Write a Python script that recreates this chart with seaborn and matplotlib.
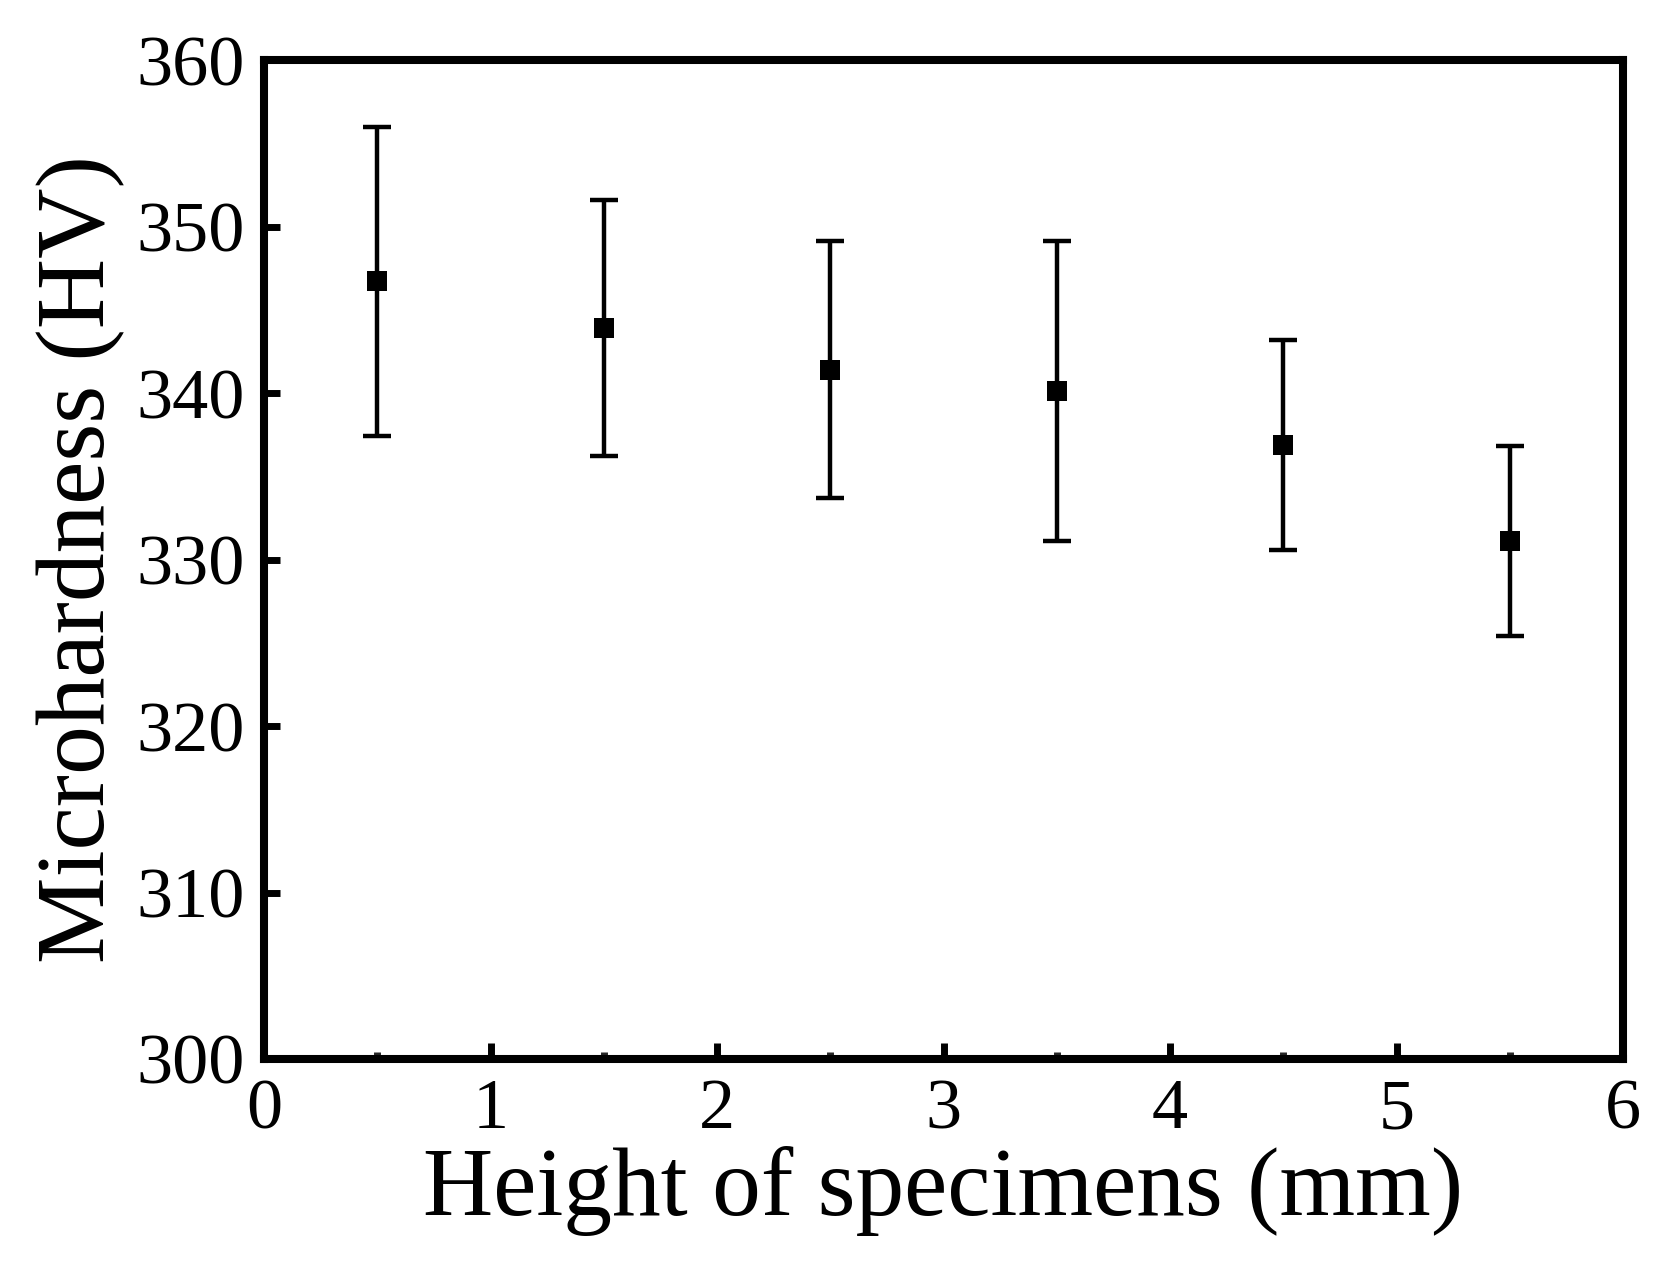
import matplotlib
matplotlib.use("Agg")
import matplotlib.pyplot as plt
import seaborn as sns
import pandas as pd
from matplotlib.ticker import MultipleLocator

height_mm = [0.5, 1.5, 2.5, 3.5, 4.5, 5.5]
hardness = [346.7, 343.9, 341.4, 340.1, 336.9, 331.1]
error = [9.3, 7.7, 7.7, 9.0, 6.3, 5.7]

df = pd.DataFrame({"height": height_mm, "hv": hardness, "err": error})

sns.set_style("white")
plt.rcParams["font.family"] = ["Liberation Serif", "DejaVu Serif"]
plt.rcParams["text.color"] = "black"
plt.rcParams["axes.labelcolor"] = "black"

W, H = 1676, 1279
fig = plt.figure(figsize=(W / 100, H / 100), dpi=100)
ax = fig.add_axes([264 / W, 1 - 1059 / H, (1623 - 264) / W, (1059 - 60) / H])

ax.errorbar(df["height"], df["hv"], yerr=df["err"], fmt="none", ecolor="black",
            elinewidth=3.2, capsize=10, capthick=3.2, zorder=2)
sns.scatterplot(data=df, x="height", y="hv", marker="s", s=210, color="black",
                linewidth=0, ax=ax, zorder=3)

ax.set_xlim(0, 6)
ax.set_ylim(300, 360)
ax.xaxis.set_major_locator(MultipleLocator(1))
ax.xaxis.set_minor_locator(MultipleLocator(0.5))
ax.yaxis.set_major_locator(MultipleLocator(10))

for s in ax.spines.values():
    s.set_linewidth(5.8)
    s.set_color("black")

ax.tick_params(axis="both", which="major", direction="in", length=11.5, width=5,
               labelsize=52, colors="black", top=False, right=False,
               bottom=True, left=True)
ax.tick_params(axis="x", which="minor", direction="in", length=5, width=5,
               bottom=True, top=False)
ax.tick_params(axis="x", which="major", pad=14)
ax.tick_params(axis="y", which="major", pad=14)

ax.set_xlabel("Height of specimens (mm)", fontsize=70, labelpad=2, color="black")
ax.set_ylabel("Microhardness (HV)", fontsize=70, labelpad=8, color="black")

fig.savefig("out.png", dpi=100, facecolor="white")
